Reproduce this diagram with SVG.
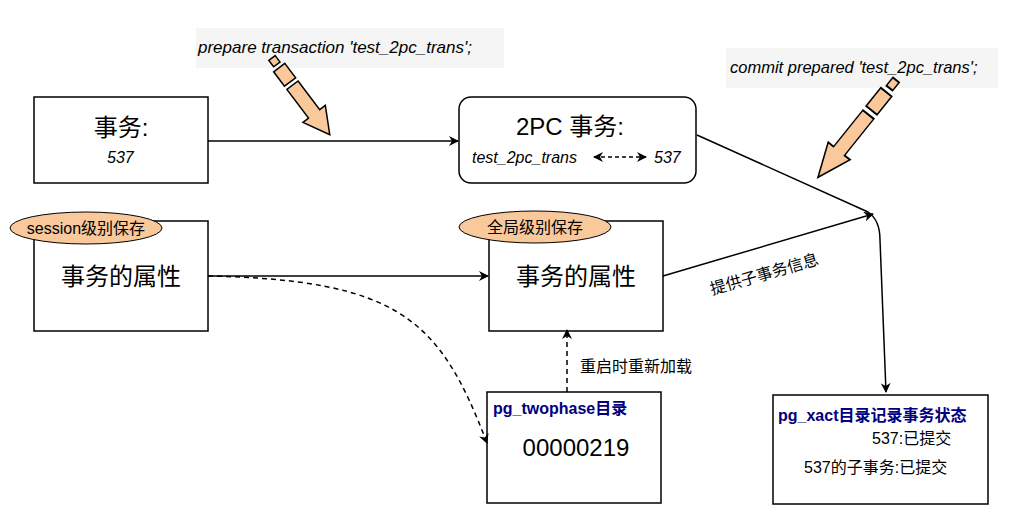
<svg xmlns="http://www.w3.org/2000/svg" width="1019" height="518" viewBox="0 0 1019 518">
<defs>
<marker id="ah" markerWidth="10" markerHeight="10" refX="9" refY="5" orient="auto" markerUnits="userSpaceOnUse"><path d="M0,0 L10,5 L0,10 L3,5 Z" fill="#000"/></marker>
<marker id="ahs" markerWidth="10" markerHeight="10" refX="1" refY="5" orient="auto" markerUnits="userSpaceOnUse"><path d="M10,0 L0,5 L10,10 L7,5 Z" fill="#000"/></marker>
<g id="fat"><path d="M0,-4 L8,-4 L8,4 L0,4 Z M12,-7 L30,-7 L30,7 L12,7 Z M34,-7 L70,-7 L70,-14 L96,0 L70,14 L70,7 L34,7 Z" fill="#f9c89b" stroke="#000" stroke-width="1.5"/></g>
</defs>
<style>
text{font-family:"Liberation Sans","Noto Sans CJK SC",sans-serif;fill:#000}
.box{fill:#fff;stroke:#000;stroke-width:1.5}
.ell{fill:#f9c89b;stroke:#000;stroke-width:1}
.ln{fill:none;stroke:#000;stroke-width:1.5}
.it{font-style:italic}
.blue{fill:#000080;font-weight:bold}
</style>
<rect width="1019" height="518" fill="#fff"/>
<g id="notes">
<rect x="196" y="28" width="308" height="40" fill="#f5f5f5"/>
<text x="198" y="53" font-size="17" class="it" fill="#333">prepare transaction 'test_2pc_trans';</text>
<rect x="726" y="48" width="272" height="40" fill="#f5f5f5"/>
<text x="730" y="73" font-size="16.5" class="it">commit prepared 'test_2pc_trans';</text>
</g>
<g id="n1"><rect class="box" x="34" y="97" width="174" height="86"/><text x="121" y="136" font-size="24" text-anchor="middle">事务:</text><text x="107" y="163" font-size="16" class="it">537</text></g>
<g id="n2"><rect class="box" x="459" y="97" width="237" height="86" rx="12"/><text x="570" y="135" font-size="24" text-anchor="middle">2PC 事务:</text><text x="472" y="163" font-size="16" class="it">test_2pc_trans</text><text x="654" y="163" font-size="16" class="it">537</text></g>
<g id="n3"><rect class="box" x="34" y="221" width="174" height="110"/><text x="121" y="285" font-size="24" text-anchor="middle">事务的属性</text>
<ellipse class="ell" cx="86" cy="228" rx="76" ry="16"/><text x="86" y="234" font-size="16" text-anchor="middle">session级别保存</text></g>
<g id="n4"><rect class="box" x="489" y="221" width="174" height="110"/><text x="576" y="285" font-size="24" text-anchor="middle">事务的属性</text>
<ellipse class="ell" cx="535" cy="227" rx="76" ry="16"/><text x="535" y="233" font-size="16" text-anchor="middle">全局级别保存</text></g>
<g id="n5"><rect class="box" x="487" y="392" width="174" height="111"/><text x="493" y="414" font-size="16" class="blue">pg_twophase目录</text><text x="576" y="456" font-size="24" text-anchor="middle">00000219</text></g>
<g id="n6"><rect class="box" x="773" y="395" width="215" height="109"/><text x="778" y="421" font-size="16" class="blue">pg_xact目录记录事务状态</text><text x="872" y="444" font-size="16">537:已提交</text><text x="804" y="473" font-size="16">537的子事务:已提交</text></g>
<g id="connectors">
<line class="ln" x1="208" y1="141" x2="458" y2="141" marker-end="url(#ah)"/>
<line class="ln" x1="594" y1="157" x2="646" y2="157" stroke-dasharray="4,3" marker-start="url(#ahs)" marker-end="url(#ah)"/>
<path class="ln" d="M697,135 L868,212 Q880,220 880,240 L886,392" marker-end="url(#ah)"/>
<line class="ln" x1="663" y1="276" x2="873" y2="214" marker-end="url(#ah)"/>
<line class="ln" x1="208" y1="276" x2="488" y2="276" marker-end="url(#ah)"/>
<path class="ln" d="M208,276 C400,280 440,320 487,443" stroke-dasharray="5,4" marker-end="url(#ah)"/>
<line class="ln" x1="567" y1="392" x2="567" y2="330" stroke-dasharray="5,4" marker-end="url(#ah)"/>
<text x="712" y="295" font-size="16" transform="rotate(-16 712 295)">提供子事务信息</text>
<text x="580" y="372" font-size="16">重启时重新加载</text>
</g>
<use href="#fat" transform="translate(272,58) rotate(53)"/>
<use href="#fat" transform="translate(896,80) rotate(128.7) scale(1.3,1)"/>
</svg>
